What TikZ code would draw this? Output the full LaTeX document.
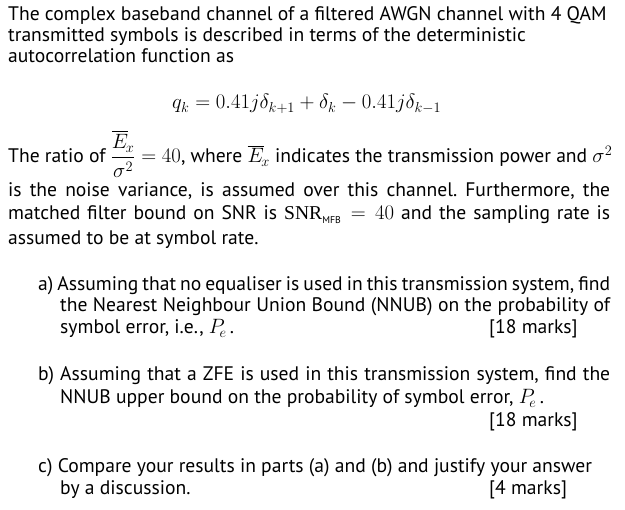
\documentclass[tikz,border=0pt]{standalone}
\usepackage{amsmath}
\usepackage{fontspec}
\setmainfont{PT Sans}
\newfontfamily\tms{Liberation Serif}
\begin{document}
\begin{tikzpicture}[x=1pt,y=-1pt,
  ln/.style={anchor=base west,inner sep=0pt,font=\fontsize{19.6}{22}\selectfont\frenchspacing}]
\useasboundingbox (0,0) rectangle (625,510);
\fill[white] (0,0) rectangle (625,510);
\node[ln] (l1) at (8,21) {The complex baseband channel of a filtered AWGN channel with 4 QAM};
\node[ln] (l2) at (8,42) {transmitted symbols is described in terms of the deterministic};
\node[ln] (l3) at (8,63) {autocorrelation function as};
\node[ln] (eq) at (172,109) {$q_k = 0.41j\delta_{k+1} + \delta_k - 0.41j\delta_{k-1}$};
\node[ln] (p1) at (8,163) {The ratio of {\tms $\dfrac{\overline{E}_{\!x}}{\sigma^2} = 40$}, where {\tms $\overline{E}_{\!x}$} indicates the transmission power and {\tms $\sigma^2$}};
\node[ln] (p2) at (8,197) {\makebox[602pt][s]{is the noise variance, is assumed over this channel. Furthermore, the}};
\node[ln] (p3) at (8,220) {\makebox[602pt][s]{matched filter bound on SNR is {\tms SNR$_{\scriptscriptstyle\mathrm{MFB}}=40$} and the sampling rate is}};
\node[ln] (p4) at (8,245) {assumed to be at symbol rate.};
\node[ln] (a1) at (38,291) {\makebox[572pt][s]{a) Assuming that no equaliser is used in this transmission system, find}};
\node[ln] (a2) at (60,312) {\makebox[550pt][s]{the Nearest Neighbour Union Bound (NNUB) on the probability of}};
\node[ln] (a3) at (60,334) {symbol error, i.e., {\tms $P_{\!e}$}\,.};
\node[ln] (a4) at (489,334) {[18 marks]};
\node[ln] (b1) at (38,381) {\makebox[572pt][s]{b) Assuming that a ZFE is used in this transmission system, find the}};
\node[ln] (b2) at (60,404) {NNUB upper bound on the probability of symbol error, {\tms $P_{\!e}$}\,.};
\node[ln] (b3) at (489,427) {[18 marks]};
\node[ln] (c1) at (38,473) {c) Compare your results in parts (a) and (b) and justify your answer};
\node[ln] (c2) at (60,495) {by a discussion.};
\node[ln] (c3) at (489,495) {[4 marks]};
\end{tikzpicture}
\end{document}
